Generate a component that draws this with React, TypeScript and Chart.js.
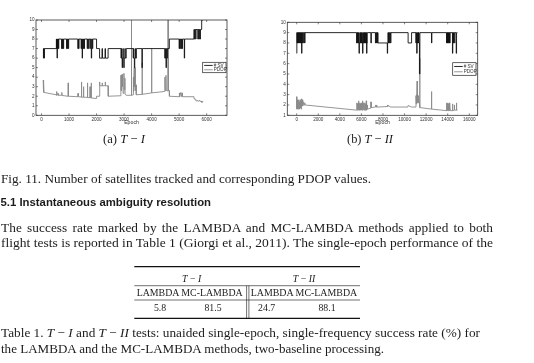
import React, { useEffect, useRef } from "react";
import { Chart, registerables } from "chart.js";

Chart.register(...registerables);

type Pt = [number, number];

// ---------- data: panel (a) T - I ----------
const svA: Pt[] = [
  [60, 7], [70, 6], [85, 7], [95, 6], [105, 7],
  [540, 8], [548, 7], [558, 8], [566, 6], [576, 8], [590, 7], [600, 8], [615, 7], [628, 8],
  [730, 7], [742, 8], [755, 7], [768, 8], [790, 7], [804, 8],
  [910, 7], [922, 8], [940, 7], [952, 8], [972, 7], [986, 8],
  [1320, 7], [1335, 8], [1350, 7], [1362, 8], [1440, 7], [1452, 8], [1468, 7], [1478, 6], [1490, 8],
  [1510, 7], [1528, 8], [1548, 7], [1562, 8],
  [1660, 7], [1674, 8], [1700, 7], [1716, 8], [1760, 7], [1774, 8], [1800, 7], [1810, 6], [1822, 8],
  [1850, 7], [1864, 8],
  [2000, 7], [2110, 6], [2200, 7], [2214, 6], [2310, 7], [2324, 6], [2420, 7],
  [2890, 6], [2902, 7], [2912, 6], [2930, 5], [2944, 6], [2958, 7], [2972, 6], [2990, 5], [3004, 6],
  [3030, 7], [3044, 6], [3078, 7],
  [3330, 6], [3344, 7], [3358, 6], [3374, 5], [3388, 6], [3408, 7], [3420, 6], [3448, 7],
  [3650, 5], [3664, 7],
  [4480, 6], [4494, 7], [4508, 6], [4524, 5], [4540, 7], [4558, 6], [4574, 7],
  [4645, 8],
  [5000, 7], [5014, 8], [5030, 7], [5044, 8], [5070, 7], [5088, 8], [5110, 7], [5124, 8], [5188, 6], [5200, 8],
  [5540, 9], [5554, 8], [5570, 9], [5600, 8], [5614, 9], [5680, 8], [5698, 9], [5720, 8], [5734, 9],
  [5760, 8], [5774, 9],
  [5820, 10], [5870, 10],
];

const pdopA: Pt[] = [
  [60, 3.7], [68, 2.4], [82, 3.3], [92, 2.4], [540, 2.15], [548, 2.5], [556, 2.1], [600, 2.3], [608, 2.1],
  [730, 2.1], [738, 2.4], [746, 2.08], [962, 2.0], [970, 3.4], [980, 2.0],
  [1320, 1.95], [1328, 2.3], [1336, 1.95], [1446, 1.92], [1452, 3.5], [1460, 1.9], [1520, 1.9], [1526, 3.0],
  [1534, 1.9], [1664, 1.88], [1670, 3.4], [1678, 1.86], [1760, 1.85], [1766, 3.0], [1774, 1.84],
  [1800, 1.84], [1806, 3.4], [1814, 1.82], [1995, 1.76], [2000, 2.0],
  [2105, 2.0], [2110, 3.5], [2120, 3.1], [2200, 3.1], [2206, 3.4], [2214, 3.1], [2310, 3.1], [2316, 3.5],
  [2324, 3.1], [2420, 3.1], [2426, 2.0],
  [2885, 2.05], [2890, 4.2], [2898, 2.6], [2928, 4.3], [2936, 3.0], [2958, 4.0], [2966, 2.3], [2996, 4.4],
  [3004, 2.7], [3030, 3.9], [3038, 2.2], [3078, 2.1],
  [3262, 2.1], [3266, 10.5], [3274, 2.1],
  [3328, 2.15], [3336, 4.0], [3344, 2.5], [3370, 5.0], [3378, 3.0], [3398, 5.0], [3406, 2.6], [3436, 3.2],
  [3444, 2.15],
  [3652, 2.2], [3656, 5.5], [3664, 2.2], [3996, 2.35], [4000, 7.0], [4008, 2.35],
  [4478, 2.5], [4484, 4.0], [4492, 2.6], [4522, 4.2], [4530, 2.6], [4594, 2.55], [4600, 10.5], [4608, 2.6],
  [4640, 2.6], [4648, 2.0],
  [5000, 1.95], [5008, 2.35], [5016, 1.95], [5064, 2.4], [5072, 1.95], [5110, 2.35], [5118, 1.95],
  [5540, 1.95], [5548, 1.7], [5600, 1.7], [5616, 1.5], [5680, 1.55], [5700, 1.45], [5740, 1.6],
  [5760, 1.45], [5800, 1.5], [5830, 1.35], [5870, 1.5],
];

// ---------- data: panel (b) T - II ----------
const svB: Pt[] = [
  [0, 7], [15, 9], [40, 8], [70, 9], [100, 8], [130, 9], [165, 8], [200, 9], [240, 8], [270, 9], [310, 8],
  [340, 9], [380, 8], [410, 9], [440, 8], [460, 7], [480, 9], [530, 8], [560, 9], [650, 8], [680, 9],
  [740, 8], [770, 9],
  [5550, 8], [5590, 9], [5620, 8], [5660, 9], [5690, 8], [5720, 9], [5750, 8], [5780, 7], [5810, 8],
  [5850, 9], [5880, 8], [5920, 9], [5950, 8], [5990, 9], [6020, 8], [6060, 9], [6090, 8], [6110, 7],
  [6140, 8], [6180, 9], [6210, 8], [6250, 9], [6280, 8], [6320, 9], [6350, 8], [6390, 9], [6420, 8],
  [6460, 9], [6480, 7], [6510, 8], [6540, 9],
  [6880, 8], [6920, 9],
  [7300, 8], [7340, 9], [7380, 8], [7420, 9], [7460, 8], [7500, 9], [7540, 8],
  [8400, 7], [8430, 8], [8460, 9], [8500, 8], [8540, 9], [8580, 8], [8620, 9], [8700, 8], [8740, 9],
  [10330, 8], [10650, 9],
  [11050, 8], [11080, 9], [11110, 8], [11130, 7], [11160, 8], [11190, 9], [11220, 8], [11250, 9],
  [11280, 8], [11310, 9], [11340, 8], [11380, 5], [11420, 9],
  [12500, 8], [12530, 9],
  [13890, 8], [13920, 9], [13950, 8], [13980, 9], [14010, 8], [14040, 9], [14070, 8], [14100, 9],
  [14130, 8], [14160, 9], [14190, 8], [14220, 9],
  [14440, 7], [14470, 9], [14500, 8], [14540, 9], [14580, 8], [14620, 9], [14760, 8], [14790, 7],
  [14820, 9], [14900, 9],
];

const pdopB: Pt[] = [
  [0, 2.8], [12, 1.6], [40, 2.5], [60, 1.6], [100, 2.4], [125, 1.6], [165, 2.5], [190, 1.7], [240, 2.3],
  [265, 1.6], [310, 2.5], [335, 1.7], [380, 2.2], [405, 1.6], [440, 2.6], [465, 1.8], [530, 2.5],
  [560, 1.9], [650, 2.3], [680, 2.0], [740, 2.2], [770, 2.0],
  [5550, 1.5], [5580, 2.2], [5610, 1.5], [5640, 2.1], [5670, 1.5], [5700, 2.2], [5730, 1.5], [5760, 2.4],
  [5790, 1.5], [5830, 2.2], [5860, 1.5], [5900, 2.1], [5930, 1.5], [5970, 2.2], [6000, 1.5], [6040, 2.1],
  [6070, 1.5], [6100, 2.4], [6130, 1.5], [6170, 2.2], [6200, 1.5], [6240, 2.1], [6270, 1.5], [6310, 2.2],
  [6340, 1.5], [6380, 2.1], [6410, 1.5], [6450, 2.4], [6480, 1.5], [6520, 2.0], [6550, 1.6],
  [6880, 1.7], [6890, 2.3], [6900, 1.75], [7300, 1.8], [7320, 2.0], [7360, 1.8], [7400, 2.0], [7440, 1.8],
  [7540, 1.8], [8400, 1.85], [8420, 2.0], [8460, 1.85], [8540, 1.95], [8580, 1.85], [8740, 1.8],
  [10300, 1.8], [10330, 1.95], [10650, 1.8],
  [11050, 1.8], [11060, 2.9], [11080, 2.1], [11130, 3.0], [11150, 2.2], [11170, 4.3], [11185, 2.3],
  [11250, 2.9], [11270, 2.2], [11370, 2.3], [11400, 6.5], [11430, 1.75],
  [12490, 1.6], [12500, 3.3], [12515, 1.6],
  [13890, 1.45], [13900, 2.2], [13930, 1.45], [13960, 2.1], [13990, 1.45], [14020, 2.2], [14050, 1.45],
  [14080, 2.1], [14110, 1.45], [14140, 2.2], [14170, 1.45], [14200, 2.1], [14230, 1.45],
  [14440, 1.45], [14450, 2.1], [14470, 1.45], [14600, 1.5], [14620, 2.0], [14640, 1.5], [14800, 1.5],
  [14815, 2.2], [14830, 1.5], [14900, 1.5],
];

// ---------- ticks and labels ----------
const xTicksA = [0, 1000, 2000, 3000, 4000, 5000, 6000];
const yTicksA = [0, 1, 2, 3, 4, 5, 6, 7, 8, 9, 10];
const xTicksB = [0, 2000, 4000, 6000, 8000, 10000, 12000, 14000, 16000];
const yTicksB = [1, 2, 3, 4, 5, 6, 7, 8, 9, 10];
const seriesLabels = ["# SV", "PDOP"];
const xAxisTitle = "Epoch";

// table values
const tableMethods = ["LAMBDA", "MC-LAMBDA"];
const tableValues = ["5.8", "81.5", "24.7", "88.1"];

interface PanelProps {
  left: number;
  width: number;
  height: number;
  plot: { l: number; r: number; t: number; b: number };
  xRange: [number, number];
  yRange: [number, number];
  xTicks: number[];
  yTicks: number[];
  sv: Pt[];
  pdop: Pt[];
  legend: [number, number, number, number];
}

const TICK_FONT = "'Liberation Sans', Arial, sans-serif";

function Panel(p: PanelProps) {
  const ref = useRef<HTMLCanvasElement | null>(null);
  useEffect(() => {
    const canvas = ref.current;
    if (!canvas) return;
    const framePlugin = {
      id: "frame",
      afterDraw(chart: any) {
        const { ctx, chartArea } = chart;
        const { left, right, top, bottom } = chartArea;
        const xs = chart.scales.x;
        const ys = chart.scales.y;
        ctx.save();
        ctx.strokeStyle = "#333";
        ctx.lineWidth = 0.8;
        ctx.strokeRect(left, top, right - left, bottom - top);
        const tl = 2;
        ctx.lineWidth = 0.6;
        ctx.beginPath();
        xs.ticks.forEach((t: any) => {
          const px = xs.getPixelForValue(t.value);
          ctx.moveTo(px, bottom);
          ctx.lineTo(px, bottom - tl);
          ctx.moveTo(px, top);
          ctx.lineTo(px, top + tl);
        });
        ys.ticks.forEach((t: any) => {
          const py = ys.getPixelForValue(t.value);
          ctx.moveTo(left, py);
          ctx.lineTo(left + tl, py);
          ctx.moveTo(right, py);
          ctx.lineTo(right - tl, py);
        });
        ctx.stroke();
        // legend box
        const [lx, ly, lw, lh] = p.legend;
        ctx.fillStyle = "#fff";
        ctx.fillRect(lx, ly, lw, lh);
        ctx.strokeStyle = "#222";
        ctx.lineWidth = 0.7;
        ctx.strokeRect(lx, ly, lw, lh);
        const rows = [ly + lh * 0.3, ly + lh * 0.72];
        const cols = ["#111", "#8a8a8a"];
        rows.forEach((ry, i) => {
          ctx.strokeStyle = cols[i];
          ctx.lineWidth = 0.9;
          ctx.beginPath();
          ctx.moveTo(lx + 1.5, ry);
          ctx.lineTo(lx + 10, ry);
          ctx.stroke();
          ctx.fillStyle = "#333";
          ctx.font = `4.6px ${TICK_FONT}`;
          ctx.textBaseline = "middle";
          ctx.textAlign = "left";
          ctx.fillText(seriesLabels[i], lx + 11, ry);
        });
        ctx.restore();
      },
    };
    const chart = new Chart(canvas, {
      type: "line",
      data: {
        datasets: [
          {
            label: seriesLabels[0],
            data: p.sv.map(([x, y]) => ({ x, y })),
            borderColor: "#111",
            borderWidth: 0.9,
            pointRadius: 0,
            stepped: true,
            fill: false,
          },
          {
            label: seriesLabels[1],
            data: p.pdop.map(([x, y]) => ({ x, y })),
            borderColor: "#8a8a8a",
            borderWidth: 0.9,
            pointRadius: 0,
            tension: 0,
            fill: false,
          },
        ],
      },
      options: {
        animation: false,
        responsive: false,
        devicePixelRatio: 1,
        events: [],
        layout: { padding: { top: p.plot.t, right: p.width - p.plot.r, left: 0, bottom: 0 } },
        plugins: { legend: { display: false }, tooltip: { enabled: false } },
        scales: {
          x: {
            type: "linear",
            min: p.xRange[0],
            max: p.xRange[1],
            grid: { display: false, drawTicks: false },
            border: { display: false },
            afterBuildTicks: (s: any) => {
              s.ticks = p.xTicks.map((v) => ({ value: v }));
            },
            afterFit: (s: any) => {
              s.height = p.height - p.plot.b;
            },
            ticks: {
              font: { size: 4.6, family: TICK_FONT },
              color: "#333",
              padding: 1.2,
              maxRotation: 0,
              autoSkip: false,
              callback: (v: any) => String(v),
            },
            title: {
              display: true,
              text: xAxisTitle,
              font: { size: 5.2, family: TICK_FONT },
              color: "#333",
              padding: 0,
            },
          },
          y: {
            type: "linear",
            min: p.yRange[0],
            max: p.yRange[1],
            grid: { display: false, drawTicks: false },
            border: { display: false },
            afterBuildTicks: (s: any) => {
              s.ticks = p.yTicks.map((v) => ({ value: v }));
            },
            afterFit: (s: any) => {
              s.width = p.plot.l;
            },
            ticks: {
              font: { size: 4.6, family: TICK_FONT },
              color: "#333",
              padding: 1.5,
              autoSkip: false,
              callback: (v: any) => String(v),
            },
          },
        },
      },
      plugins: [framePlugin],
    } as any);
    return () => chart.destroy();
  }, []);
  return (
    <canvas
      ref={ref}
      width={p.width}
      height={p.height}
      style={{ position: "absolute", left: p.left, top: 0, width: p.width, height: p.height }}
    />
  );
}

const SERIF = "'Liberation Serif', 'Times New Roman', serif";
const SANS = "'Liberation Sans', Arial, sans-serif";
const INK = "#1c1c1c";

export default function App() {
  return (
    <div
      style={{
        position: "absolute",
        left: 0,
        top: 0,
        width: 534,
        height: 363,
        background: "#fff",
        overflow: "hidden",
      }}
    >
      <Panel
        left={0}
        width={260}
        height={126}
        plot={{ l: 36, r: 227, t: 20, b: 115.3 }}
        xRange={[-200, 6740]}
        yRange={[0, 10]}
        xTicks={xTicksA}
        yTicks={yTicksA}
        sv={svA}
        pdop={pdopA}
        legend={[202.7, 62.3, 23.3, 10.4]}
      />
      <Panel
        left={260}
        width={274}
        height={126}
        plot={{ l: 27.3, r: 217.7, t: 22.3, b: 115.3 }}
        xRange={[-870, 16780]}
        yRange={[1, 10]}
        xTicks={xTicksB}
        yTicks={yTicksB}
        sv={svB}
        pdop={pdopB}
        legend={[192.7, 62.7, 23.3, 12.6]}
      />
      <svg
        width={534}
        height={363}
        style={{ position: "absolute", left: 0, top: 0 }}
        fontFamily={SERIF}
        fill={INK}
      >
        <text x={103} y={143.3} fontSize={13.3} textLength={42} lengthAdjust="spacingAndGlyphs">
          {"(a) "}
          <tspan fontStyle="italic">T</tspan>
          {" − "}
          <tspan fontStyle="italic">I</tspan>
        </text>
        <text x={347} y={143.3} fontSize={13.3} textLength={46} lengthAdjust="spacingAndGlyphs">
          {"(b) "}
          <tspan fontStyle="italic">T</tspan>
          {" − "}
          <tspan fontStyle="italic">II</tspan>
        </text>
        <text x={1} y={182.7} fontSize={13.3} textLength={370} lengthAdjust="spacingAndGlyphs">
          Fig. 11. Number of satellites tracked and corresponding PDOP values.
        </text>
        <text
          x={0.5}
          y={206.3}
          fontSize={11.4}
          fontFamily={SANS}
          fontWeight="bold"
          textLength={210.5}
          lengthAdjust="spacingAndGlyphs"
        >
          5.1 Instantaneous ambiguity resolution
        </text>
        <text x={1} y={232} fontSize={13.3} wordSpacing={1.8} textLength={492} lengthAdjust="spacing">
          The success rate marked by the LAMBDA and MC-LAMBDA methods applied to both
        </text>
        <text x={1} y={247} fontSize={13.3} textLength={492} lengthAdjust="spacingAndGlyphs">
          flight tests is reported in Table 1 (Giorgi et al., 2011). The single-epoch performance of the
        </text>

        {/* Table 1 */}
        <line x1={134.3} x2={360} y1={266.7} y2={266.7} stroke="#111" strokeWidth={1.2} />
        <text x={191.7} y={281.7} fontSize={9.8} textAnchor="middle">
          <tspan fontStyle="italic">T</tspan>
          {" − "}
          <tspan fontStyle="italic">I</tspan>
        </text>
        <text x={304} y={281.7} fontSize={9.8} textAnchor="middle">
          <tspan fontStyle="italic">T</tspan>
          {" − "}
          <tspan fontStyle="italic">II</tspan>
        </text>
        <line x1={134.3} x2={360} y1={285.7} y2={285.7} stroke="#111" strokeWidth={0.6} />
        <text x={136.7} y={295.7} fontSize={9.8} textLength={106} lengthAdjust="spacingAndGlyphs">
          {tableMethods[0] + " " + tableMethods[1]}
        </text>
        <text x={250.7} y={295.7} fontSize={9.8} textLength={106.6} lengthAdjust="spacingAndGlyphs">
          {tableMethods[0] + " " + tableMethods[1]}
        </text>
        <line x1={134.3} x2={360} y1={300} y2={300} stroke="#111" strokeWidth={0.6} />
        <text x={160} y={311} fontSize={9.8} textAnchor="middle">{tableValues[0]}</text>
        <text x={213} y={311} fontSize={9.8} textAnchor="middle">{tableValues[1]}</text>
        <text x={266.7} y={311} fontSize={9.8} textAnchor="middle">{tableValues[2]}</text>
        <text x={327} y={311} fontSize={9.8} textAnchor="middle">{tableValues[3]}</text>
        <line x1={246.6} x2={246.6} y1={285.7} y2={318.3} stroke="#111" strokeWidth={0.6} />
        <line x1={248.9} x2={248.9} y1={285.7} y2={318.3} stroke="#111" strokeWidth={0.6} />
        <line x1={134.3} x2={360} y1={318.3} y2={318.3} stroke="#111" strokeWidth={1.2} />

        <text x={1} y={337.3} fontSize={13.3} textLength={479} lengthAdjust="spacingAndGlyphs">
          {"Table 1. "}
          <tspan fontStyle="italic">T</tspan>
          {" − "}
          <tspan fontStyle="italic">I</tspan>
          {" and "}
          <tspan fontStyle="italic">T</tspan>
          {" − "}
          <tspan fontStyle="italic">II</tspan>
          {" tests: unaided single-epoch, single-frequency success rate (%) for"}
        </text>
        <text x={1} y={353.3} fontSize={13.3} textLength={383} lengthAdjust="spacingAndGlyphs">
          the LAMBDA and the MC-LAMBDA methods, two-baseline processing.
        </text>
      </svg>
    </div>
  );
}
